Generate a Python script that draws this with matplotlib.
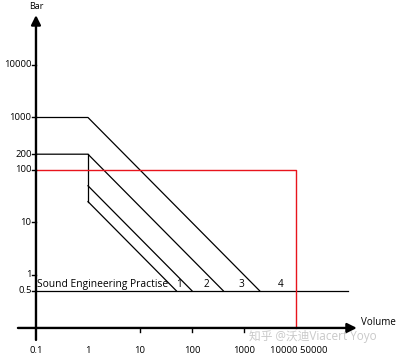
import numpy as np
import matplotlib.pyplot as plt

plt.rcParams['font.family'] = ['Open Sans', 'Noto Sans CJK SC', 'DejaVu Sans']

# categorias (PS * V constante)
cat_labels = ['1', '2', '3', '4']
cat_pv = [25, 50, 200, 1000]
cat_flat = [None, None, 200, 1000]       # tramo horizontal para V <= 1
cat_label_v = [57, 185, 900, 5000]

x_ticks = [0.1, 1, 10, 100, 1000]
x_tick_labels = ['0.1', '1', '10', '100', '1000']
x_tick_marks = [10, 100, 1000]
x_extra = [10000, 50000]
y_ticks = [0.5, 1, 10, 100, 200, 1000, 10000]
y_tick_labels = ['0.5', '1', '10', '100', '200', '1000', '10000']

sep_ps = 0.5          # Sound Engineering Practise
sep_end = 1e5
red_ps = 100
red_v = 10000
x_axis_y = 0.098
v_min = 0.1

fig = plt.figure(figsize=(4, 3.58), dpi=100)
ax = fig.add_axes([0, 0, 1, 1])
ax.set_xscale('log')
ax.set_yscale('log')
ax.set_xlim(10**-1.692, 10**6.0)
ax.set_ylim(10**-1.581, 10**5.238)
ax.axis('off')

lw = 0.9
# lineas de categoria
for pv, flat in zip(cat_pv, cat_flat):
    xs = [1, pv / sep_ps]
    ys = [pv, sep_ps]
    if flat is not None:
        xs = [v_min] + xs
        ys = [flat] + ys
    ax.plot(xs, ys, color='black', lw=lw)
# vertical en V = 1
ax.plot([1, 1], [cat_flat[2], cat_pv[0]], color='black', lw=lw)

# limite 0.5 bar
ax.plot([v_min, sep_end], [sep_ps, sep_ps], color='black', lw=lw)
ax.text(0.105, sep_ps * 1.02, 'Sound Engineering Practise', fontsize=7.4,
        ha='left', va='bottom')
for lab, v in zip(cat_labels, cat_label_v):
    ax.text(v, sep_ps * 1.02, lab, fontsize=7.2, ha='center', va='bottom')

# linea roja
ax.plot([v_min, red_v, red_v], [red_ps, red_ps, x_axis_y], color='#e8141c', lw=1.0)

# ejes con flechas
ax.annotate('', xy=(10**5.17, x_axis_y), xytext=(0.045, x_axis_y),
            arrowprops=dict(arrowstyle='-|>', lw=1.7, color='black',
                            mutation_scale=14, shrinkA=0, shrinkB=0))
ax.annotate('', xy=(v_min, 10**4.95), xytext=(v_min, 0.058),
            arrowprops=dict(arrowstyle='-|>', lw=1.7, color='black',
                            mutation_scale=14, shrinkA=0, shrinkB=0))

# ticks y
for t, lab in zip(y_ticks, y_tick_labels):
    ax.plot([0.085, v_min], [t, t], color='black', lw=1.0)
    ax.text(0.082, t, lab, fontsize=6.8, ha='right', va='center')
# ticks x
for t in x_tick_marks:
    ax.plot([t, t], [x_axis_y, x_axis_y * 0.84], color='black', lw=1.0)
for t, lab in zip(x_ticks, x_tick_labels):
    ax.text(t, 0.037, lab, fontsize=6.8, ha='center', va='center')
ax.text(x_extra[0] * 1.15, 0.037, '10000 50000', fontsize=6.8, ha='center', va='center')

ax.text(v_min, 10**5.105, 'Bar', fontsize=6.5, ha='center', va='center')
ax.text(10**5.25, 0.122, 'Volume', fontsize=7, ha='left', va='center')

# marca de agua
ax.text(10**3.1, 0.066, '知乎 @沃迪Viacert Yoyo', fontsize=8.5, color='#c0c0c0',
        alpha=0.85, ha='left', va='center')

fig.savefig('out.png', dpi=100)
